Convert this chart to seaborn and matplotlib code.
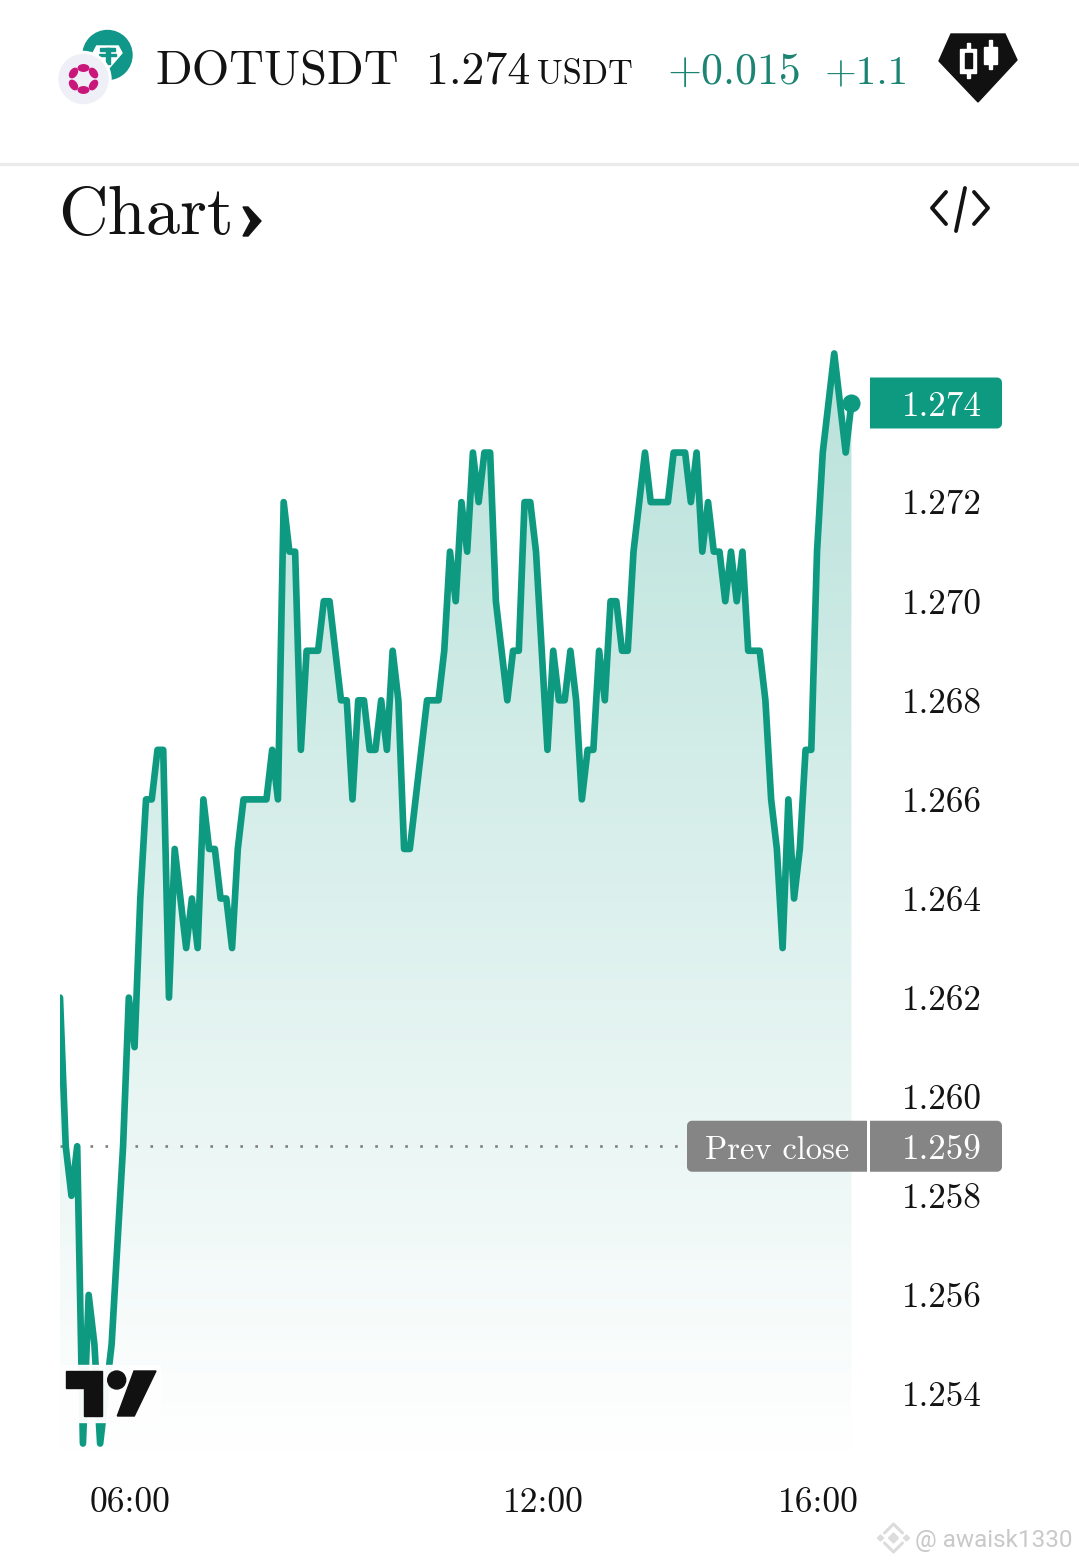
"""DOTUSDT mini chart card: 5 minute close line with a fading area, price badges and header."""
import matplotlib
matplotlib.use("Agg")
import matplotlib.pyplot as plt
import matplotlib.transforms as mtrans
import numpy as np
import pandas as pd
import seaborn as sns
from matplotlib.patches import Circle, Ellipse, Polygon, Rectangle

W, H = 1079, 1563
LINE_COLOR = "#0e9a81"
TEXT_GREEN = "#1b8473"
BADGE_GREY = "#858585"
INK = "#131313"

# closes, one every 5 minutes from 05:00
PRICES = [
    1.262, 1.259, 1.258, 1.259, 1.253, 1.256, 1.255, 1.253, 1.254, 1.255,
    1.257, 1.259, 1.262, 1.261, 1.264, 1.266, 1.266, 1.267, 1.267, 1.262,
    1.265, 1.264, 1.263, 1.264, 1.263, 1.266, 1.265, 1.265, 1.264, 1.264,
    1.263, 1.265, 1.266, 1.266, 1.266, 1.266, 1.266, 1.267, 1.266, 1.272,
    1.271, 1.271, 1.267, 1.269, 1.269, 1.269, 1.270, 1.270, 1.269, 1.268,
    1.268, 1.266, 1.268, 1.268, 1.267, 1.267, 1.268, 1.267, 1.269, 1.268,
    1.265, 1.265, 1.266, 1.267, 1.268, 1.268, 1.268, 1.269, 1.271, 1.270,
    1.272, 1.271, 1.273, 1.272, 1.273, 1.273, 1.270, 1.269, 1.268, 1.269,
    1.269, 1.272, 1.272, 1.271, 1.269, 1.267, 1.269, 1.268, 1.268, 1.269,
    1.268, 1.266, 1.267, 1.267, 1.269, 1.268, 1.270, 1.270, 1.269, 1.269,
    1.271, 1.272, 1.273, 1.272, 1.272, 1.272, 1.272, 1.273, 1.273, 1.273,
    1.272, 1.273, 1.271, 1.272, 1.271, 1.271, 1.270, 1.271, 1.270, 1.271,
    1.269, 1.269, 1.269, 1.268, 1.266, 1.265, 1.263, 1.266, 1.264, 1.265,
    1.267, 1.267, 1.271, 1.273, 1.274, 1.275, 1.274, 1.273, 1.274,
]
Y_TICKS = [1.254, 1.256, 1.258, 1.260, 1.262, 1.264, 1.266, 1.268, 1.270, 1.272]
X_TICKS = ["2024-01-01 06:00", "2024-01-01 12:00", "2024-01-01 16:00"]
X_LABELS = ["06:00", "12:00", "16:00"]
LAST_PRICE = 1.274
PREV_CLOSE = 1.259

# plot area in image pixels
PLOT_LEFT, PLOT_RIGHT, PLOT_TOP, PLOT_BOTTOM = 60, 870, 340, 1460
PX_PER_UNIT = 49550
PX_PER_MIN = 1.147


def draw_header(ov):
    # tether coin
    teal = "#11968a"
    ov.add_patch(Circle((107.5, 55), 24.5, color=teal, zorder=2))
    ov.add_patch(Polygon([(96.7, 46), (118.3, 46), (122, 53), (107.3, 70), (93, 53)],
                         color="white", zorder=3))
    ov.add_patch(Rectangle((100, 48), 15, 3, color=teal, zorder=4))
    ov.add_patch(Rectangle((105.5, 48), 4, 16, color=teal, zorder=4))
    ov.add_patch(Rectangle((99, 54), 17, 2, color=teal, zorder=4))

    # polkadot coin with a white halo
    ov.add_patch(Circle((83.5, 79), 27.5, color="white", zorder=5))
    ov.add_patch(Circle((83.5, 79), 24.5, color="#efeff8", zorder=6))
    for dx, dy, ang in [(0, -11, 0), (0, 11, 0), (-10, -6, -55), (10, -6, 55),
                        (-10, 6, 55), (10, 6, -55)]:
        ov.add_patch(Ellipse((83.5 + dx, 79 + dy), 10.5, 6.5, angle=ang,
                             color="#c9167a", zorder=7))

    ov.text(155.5, 83.5, "DOTUSDT", fontsize=34.7, color=INK)
    ov.text(425.5, 83.5, "1.274", fontsize=33, color=INK)
    ov.text(537.5, 83.5, "USDT", fontsize=24.8, color=INK)
    ov.text(668, 83.5, "+0.015", fontsize=31.5, color=TEXT_GREEN)
    ov.text(825, 83.5, "+1.1", fontsize=29.5, color=TEXT_GREEN)

    # pendant with two candles
    dark = "#111111"
    ov.add_patch(Polygon([(951, 34), (1005, 34), (1017, 60), (978, 102), (939, 61)],
                         color=dark, zorder=2))
    ov.add_patch(Rectangle((966.5, 43), 3.5, 35, color="white", zorder=3))
    ov.add_patch(Rectangle((960, 49), 16, 24, color="white", zorder=3))
    ov.add_patch(Rectangle((965, 53), 6.5, 15, color=dark, zorder=4))
    ov.add_patch(Rectangle((988.5, 40), 3.5, 29, color="white", zorder=3))
    ov.add_patch(Rectangle((984, 47), 13, 17, color="white", zorder=3))

    ov.plot([0, W], [164, 164], color="#ebebeb", lw=2.4)
    ov.text(58.5, 234, "Chart", fontsize=49.5, color=INK)
    ov.add_patch(Polygon([(243, 207), (248, 207), (261, 221), (248, 236), (243, 236),
                          (251, 221)], color=INK))
    ov.plot([946, 932, 946], [192, 208, 224], color=INK, lw=2.8)
    ov.plot([974, 988, 974], [192, 208, 224], color=INK, lw=2.8)
    ov.plot([965, 956], [188, 231], color=INK, lw=2.8)


def rounded_box(x0, x1, y0, y1, r_left, r_right):
    # corner arcs, radius 0 on a side gives square corners there
    t = np.linspace(0, np.pi / 2, 8)
    pts = []
    pts += [(x0 + r_left - r_left * np.cos(a), y0 + r_left - r_left * np.sin(a)) for a in t]
    pts += [(x1 - r_right + r_right * np.sin(a), y0 + r_right - r_right * np.cos(a)) for a in t]
    pts += [(x1 - r_right + r_right * np.cos(a), y1 - r_right + r_right * np.sin(a)) for a in t]
    pts += [(x0 + r_left - r_left * np.sin(a), y1 - r_left + r_left * np.cos(a)) for a in t]
    return pts


def badge(ov, x0, x1, yc, text, color, tx, size=25.3, r_left=0, r_right=0):
    ov.add_patch(Polygon(rounded_box(x0, x1, yc - 25.5, yc + 25.5, r_left, r_right),
                         fc=color, ec="none", zorder=6))
    ov.text(tx, yc + 12.5, text, fontsize=size, color="white", zorder=7)


def draw_logo(ov):
    dark = "#111111"
    ov.add_patch(Rectangle((60, 1365), 100, 57, color="white", alpha=0.96, zorder=3))
    ov.add_patch(Polygon([(66, 1371), (102, 1371), (102, 1416), (84.3, 1416),
                          (84.3, 1388), (66, 1388)], color=dark, zorder=4))
    ov.add_patch(Circle((116.7, 1380), 9, color=dark, zorder=4))
    ov.add_patch(Polygon([(134, 1371), (156, 1371), (134.3, 1416), (117.3, 1416)],
                         color=dark, zorder=4))


def draw_watermark(ov):
    gray = "#dcdcdc"
    cx, cy = 893.5, 1538
    ov.plot([cx - 9, cx, cx + 9], [cy - 5, cy - 14, cy - 5], color=gray, lw=2.2)
    ov.plot([cx - 9, cx, cx + 9], [cy + 5, cy + 14, cy + 5], color=gray, lw=2.2)
    ov.add_patch(Polygon([(cx - 5, cy), (cx, cy - 5), (cx + 5, cy), (cx, cy + 5)], color=gray))
    for dx in (-13, 13):
        ov.add_patch(Polygon([(cx + dx - 3, cy), (cx + dx, cy - 3), (cx + dx + 3, cy),
                              (cx + dx, cy + 3)], color=gray))
    ov.text(915, 1547, "@ awaisk1330", fontsize=17.5, color="#c9c9c9",
            family=["Roboto", "DejaVu Sans"])


def main():
    sns.set_theme(style="white")
    plt.rcParams["font.family"] = ["cmr10", "DejaVu Sans"]
    plt.rcParams["axes.formatter.use_mathtext"] = True

    times = pd.date_range("2024-01-01 05:00", periods=len(PRICES), freq="5min")
    df = pd.DataFrame({"time": times, "price": PRICES})

    fig = plt.figure(figsize=(W / 100, H / 100), dpi=100, facecolor="white")
    ax = fig.add_axes([PLOT_LEFT / W, 1 - PLOT_BOTTOM / H,
                       (PLOT_RIGHT - PLOT_LEFT) / W, (PLOT_BOTTOM - PLOT_TOP) / H])

    y_bottom = 1.254 - (PLOT_BOTTOM - 1394) / PX_PER_UNIT
    y_top = 1.254 + (1394 - PLOT_TOP) / PX_PER_UNIT
    x_left = times[0]
    x_right = x_left + pd.Timedelta(minutes=(PLOT_RIGHT - PLOT_LEFT) / PX_PER_MIN)

    sns.lineplot(data=df, x="time", y="price", ax=ax, color=LINE_COLOR, linewidth=4.8,
                 estimator=None, errorbar=None, sort=False, zorder=4,
                 solid_joinstyle="round", solid_capstyle="round")
    sns.scatterplot(data=df.tail(1), x="time", y="price", ax=ax, color=LINE_COLOR,
                    s=170, linewidth=0, zorder=5, clip_on=False)

    ax.set_xlim(x_left, x_right)
    ax.set_ylim(y_bottom, y_top)

    # area under the line: vertical fade clipped to the fill polygon
    poly = ax.fill_between(df["time"], df["price"], y_bottom, color="none", lw=0)
    rows = np.linspace(PLOT_TOP, PLOT_BOTTOM, 400)
    alpha = np.clip(0.265 * (1450 - rows) / 1000, 0, 1)[:, None, None]
    rgb = 1 - alpha * (1 - np.array(matplotlib.colors.to_rgb(LINE_COLOR)))
    x0, x1 = ax.get_xlim()
    im = ax.imshow(rgb, extent=(x0, x1, y_bottom, y_top), aspect="auto",
                   origin="upper", zorder=1, interpolation="bilinear")
    im.set_clip_path(poly.get_paths()[0], transform=ax.transData)
    ax.set_xlim(x_left, x_right)
    ax.set_ylim(y_bottom, y_top)

    # dotted previous close, stops at the badge
    dot_end = x_left + pd.Timedelta(minutes=(680 - PLOT_LEFT) / PX_PER_MIN)
    ax.plot([x_left, dot_end], [PREV_CLOSE, PREV_CLOSE], color="#7f7f7f", lw=1.9,
            ls=(0, (1, 4.68)), zorder=2)

    ax.yaxis.tick_right()
    ax.set_yticks(Y_TICKS, [f"{v:.3f}" for v in Y_TICKS])
    ax.set_xticks(pd.to_datetime(X_TICKS), X_LABELS)
    ax.tick_params(axis="y", length=0, pad=23, labelsize=25.3, labelcolor=INK)
    ax.tick_params(axis="x", length=0, pad=19.5, labelsize=25.6, labelcolor=INK)
    # time labels sit a touch right of the tick in the app
    nudge = mtrans.ScaledTranslation(1.5 / 100, 0, fig.dpi_scale_trans)
    for lab in ax.get_xticklabels():
        lab.set_transform(lab.get_transform() + nudge)
    ax.set_xlabel("")
    ax.set_ylabel("")
    ax.grid(False)
    sns.despine(ax=ax, left=True, bottom=True, right=True, top=True)
    ax.patch.set_alpha(0)

    # overlay in image pixels for everything that is not the series
    ov = fig.add_axes([0, 0, 1, 1], zorder=5)
    ov.set_xlim(0, W)
    ov.set_ylim(H, 0)
    ov.axis("off")

    def value_to_py(v):
        return H - ax.transData.transform((x0, v))[1]

    draw_header(ov)
    badge(ov, 870, 1002, value_to_py(LAST_PRICE), "1.274", LINE_COLOR, 902, r_right=5)
    badge(ov, 687, 867, value_to_py(PREV_CLOSE), "Prev close", BADGE_GREY, 705,
          size=23.4, r_left=5)
    badge(ov, 870, 1002, value_to_py(PREV_CLOSE), "1.259", BADGE_GREY, 902, r_right=5)
    draw_logo(ov)
    draw_watermark(ov)

    fig.savefig("out.png", dpi=100)


if __name__ == "__main__":
    main()
